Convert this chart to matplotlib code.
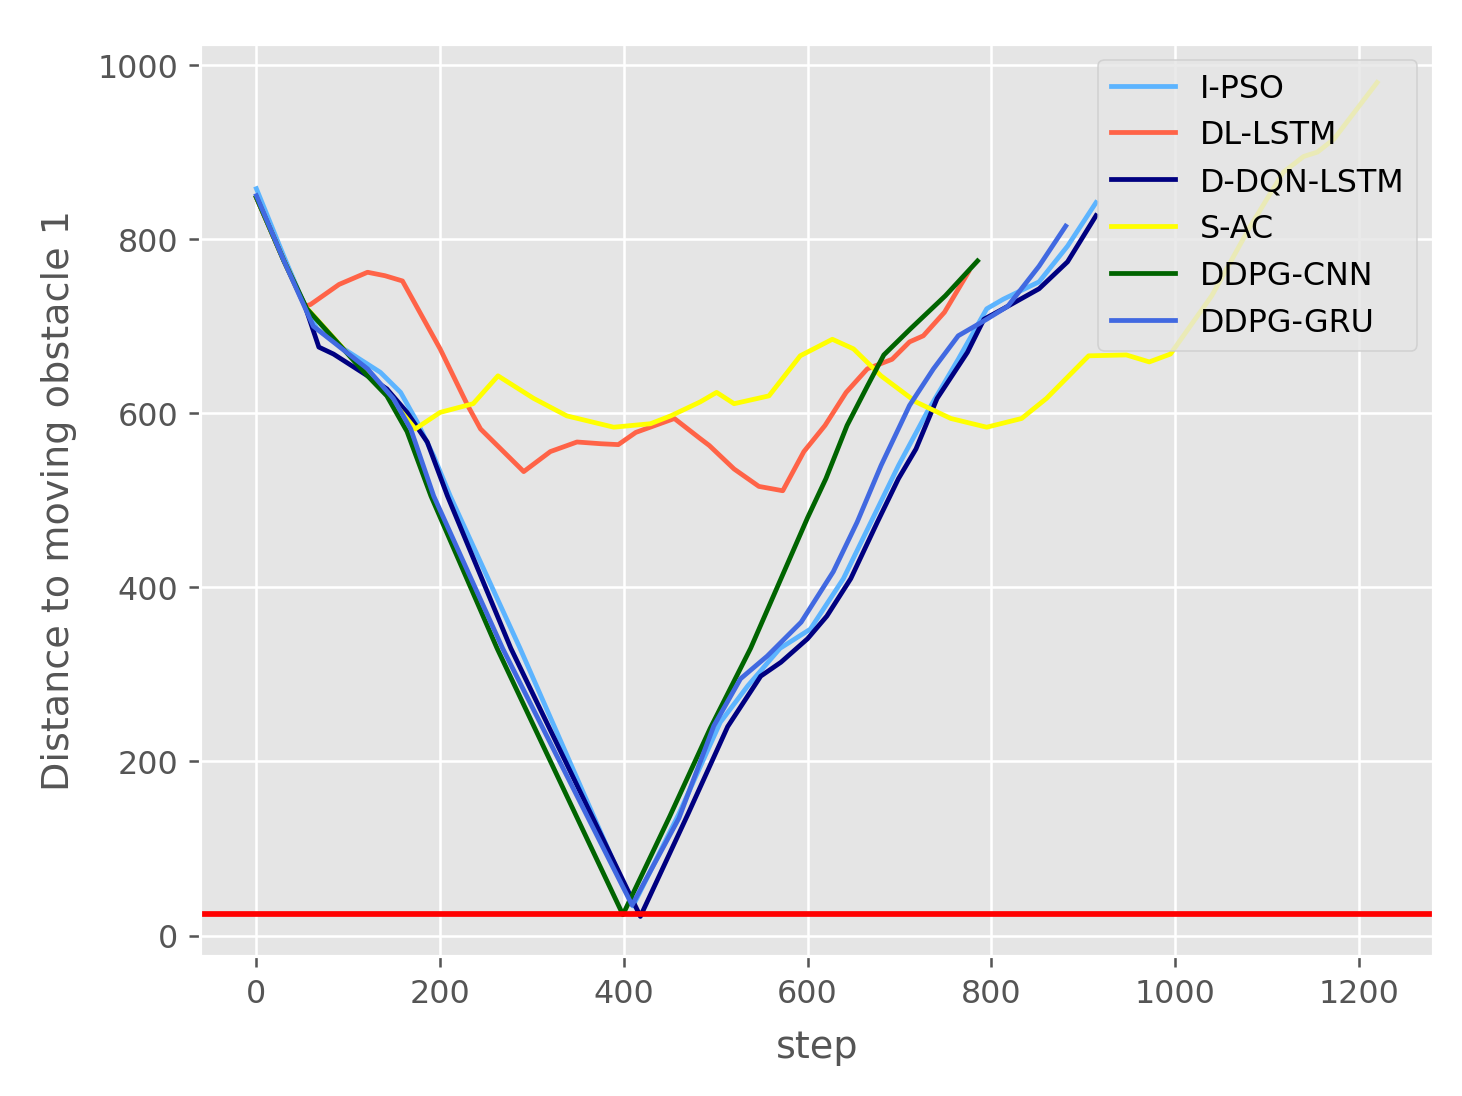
import matplotlib
matplotlib.use("Agg")
import matplotlib.pyplot as plt

# values
ipso_x = [0, 30, 53, 66, 95, 135, 157, 175, 193, 211, 287, 410, 460, 505, 535, 570, 603, 639, 669, 699, 730, 764, 795, 813, 852, 883, 914]
ipso_y = [858, 780, 723, 697, 674, 647, 624, 590, 551, 505, 330, 34, 140, 245, 287, 330, 352, 410, 475, 540, 601, 662, 720, 731, 751, 792, 842]

dllstm_x = [0, 30, 53, 59, 90, 121, 140, 159, 200, 230, 244, 291, 320, 349, 375, 394, 413, 455, 483, 493, 520, 547, 573, 596, 619, 642, 665, 692, 711, 726, 749, 775]
dllstm_y = [848, 775, 723, 725, 748, 762, 758, 752, 674, 609, 582, 533, 556, 567, 565, 564, 578, 594, 571, 563, 536, 516, 511, 556, 586, 624, 651, 662, 682, 689, 716, 762]

ddqn_x = [0, 30, 53, 68, 84, 121, 142, 164, 186, 208, 277, 418, 470, 513, 549, 571, 600, 621, 647, 676, 699, 718, 741, 774, 792, 813, 852, 883, 914]
ddqn_y = [848, 775, 723, 676, 668, 643, 628, 601, 567, 505, 330, 22, 140, 240, 298, 314, 341, 367, 410, 475, 525, 559, 617, 670, 708, 720, 743, 774, 827]

sac_x = [0, 30, 53, 100, 146, 173, 200, 236, 263, 302, 338, 389, 429, 451, 483, 501, 520, 558, 592, 627, 650, 680, 718, 756, 795, 833, 860, 906, 947, 972, 995, 1040, 1082, 1118, 1140, 1155, 1173, 1220]
sac_y = [848, 775, 723, 668, 617, 582, 601, 611, 643, 617, 597, 584, 588, 597, 613, 624, 611, 620, 666, 685, 674, 643, 613, 594, 584, 594, 617, 666, 667, 659, 668, 735, 815, 877, 895, 900, 915, 980]

cnn_x = [0, 30, 55, 121, 142, 164, 190, 262, 399, 450, 494, 538, 600, 620, 643, 665, 683, 712, 750, 785]
cnn_y = [848, 775, 720, 643, 620, 579, 505, 330, 24, 137, 238, 330, 480, 525, 586, 631, 667, 697, 735, 775]

gru_x = [0, 30, 62, 121, 149, 168, 193, 268, 409, 460, 498, 527, 556, 593, 628, 654, 680, 711, 737, 764, 795, 818, 852, 881]
gru_y = [850, 775, 700, 651, 617, 582, 505, 330, 35, 135, 241, 295, 321, 360, 418, 475, 540, 609, 651, 689, 708, 723, 769, 815]

safe_dist = 25

plt.style.use("ggplot")
fig, ax = plt.subplots(figsize=(6.4, 4.8), dpi=228.5)

ax.plot(ipso_x, ipso_y, color="#5cb4ff", lw=1.5, label="I-PSO")
ax.plot(dllstm_x, dllstm_y, color="tomato", lw=1.5, label="DL-LSTM")
ax.plot(ddqn_x, ddqn_y, color="navy", lw=1.5, label="D-DQN-LSTM")
ax.plot(sac_x, sac_y, color="yellow", lw=1.5, label="S-AC")
ax.plot(cnn_x, cnn_y, color="darkgreen", lw=1.5, label="DDPG-CNN")
ax.plot(gru_x, gru_y, color="royalblue", lw=1.5, label="DDPG-GRU")
ax.axhline(safe_dist, color="red", lw=1.8)

ax.set_xlim(-61, 1281)
ax.set_ylim(-23, 1024)
ax.set_xlabel("step", labelpad=6.5)
ax.set_ylabel("Distance to moving obstacle 1", labelpad=6.5)
ax.legend(loc="upper right")

fig.subplots_adjust(left=0.137, right=0.980, top=0.959, bottom=0.128)
fig.savefig("out.png")
